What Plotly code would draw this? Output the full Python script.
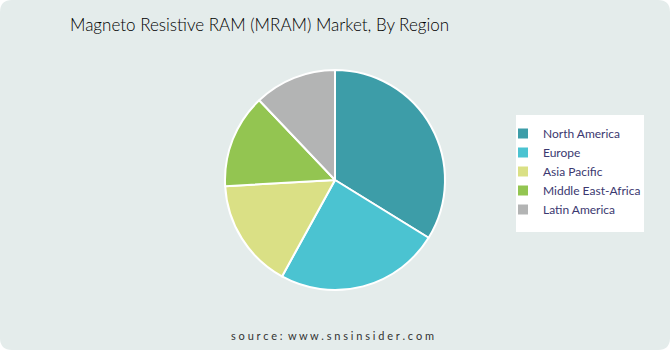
import plotly.graph_objects as go

regions = ["North America", "Europe", "Asia Pacific", "Middle East-Africa", "Latin America"]
shares = [33.8, 24.2, 16.1, 13.8, 12.1]
colors = ["#3D9DA8", "#4BC3D1", "#DAE085", "#93C551", "#B3B4B4"]

W, H = 670, 350
fig = go.Figure(go.Pie(
    labels=regions, values=shares, sort=False, direction="clockwise", rotation=0,
    marker=dict(colors=colors, line=dict(color="white", width=2)),
    textinfo="none", hoverinfo="label+percent",
    domain=dict(x=[225/W, 445/W], y=[60/H, 280/H]),
))

fig.update_layout(
    width=W, height=H, margin=dict(l=0, r=0, t=0, b=0),
    paper_bgcolor="white", plot_bgcolor="white",
    font=dict(family="Lato, sans-serif"),
    showlegend=True,
    legend=dict(x=503/W, y=1-119/H, xanchor="left", yanchor="top",
                bgcolor="rgba(0,0,0,0)", font=dict(size=12, color="#3B3870", family="Lato, sans-serif"),
                tracegroupgap=0),
    shapes=[dict(type="path", xref="paper", yref="paper", layer="below",
                 path="M 0.018 0 L 0.982 0 Q 1 0 1 0.035 L 1 0.965 Q 1 1 0.982 1 L 0.018 1 Q 0 1 0 0.965 L 0 0.035 Q 0 0 0.018 0 Z",
                 fillcolor="#E4ECEB", line=dict(width=0)),
            dict(type="rect", xref="paper", yref="paper", layer="below",
                 x0=516/W, x1=644/W, y0=1-232/H, y1=1-115/H,
                 fillcolor="white", line=dict(width=0))],
    annotations=[
        dict(text="Magneto Resistive RAM (MRAM) Market, By Region", x=259/W, y=1-25/H,
             xref="paper", yref="paper", showarrow=False, xanchor="center", yanchor="middle",
             font=dict(size=17, color="#000000", family="Lato, sans-serif", weight=300)),
        dict(text="s o u r c e :  w w w . s n s i n s i d e r . c o m", x=332/W, y=1-335/H,
             xref="paper", yref="paper", showarrow=False, xanchor="center", yanchor="middle",
             font=dict(size=11, color="#333333", family="Lato, sans-serif")),
    ],
)
fig.write_html("out.html")
